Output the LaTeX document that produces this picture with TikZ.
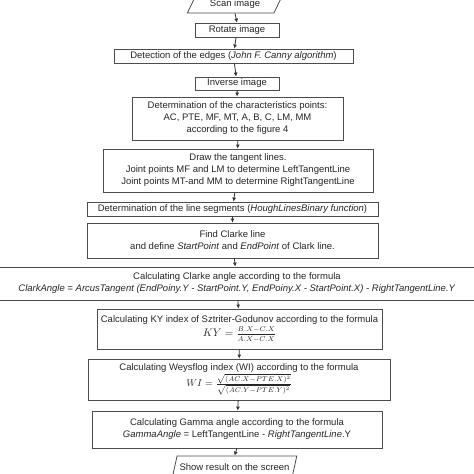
\documentclass[tikz,border=0pt]{standalone}
\usepackage{fontspec}
\setmainfont{Liberation Sans}
\usetikzlibrary{shapes.geometric,arrows.meta}
\tikzset{
	box/.style={draw=black!70, line width=0.8pt, rectangle, align=center, inner sep=0pt, font=\fontsize{9.5}{12}\selectfont, text=black!85},
	io/.style={draw=black!70, line width=0.8pt, trapezium, trapezium left angle=55, trapezium right angle=125, trapezium stretches=true, inner xsep=2.5pt, inner ysep=0pt, font=\fontsize{9.5}{12}\selectfont, text=black!85},
	arr/.style={draw=black!80, line width=0.8pt, -{Latex[length=4pt,width=4pt]}}
}
\newcommand{\formula}[1]{{\fontsize{10.5}{12}\selectfont$#1$}}
\newcommand{\fracnum}[2][1.2pt]{\raisebox{#1}{$\scriptstyle #2$}}
\newcommand{\fracden}[2][1.2pt]{\raisebox{-#1}{$\scriptstyle #2$}}
\begin{document}
\begin{tikzpicture}[x=1pt,y=-1pt]
		\useasboundingbox (0,0) rectangle (474,474);
		\node[io, minimum width=96, minimum height=18] (scan) at (235,4) {Scan image};
		\node[box, minimum width=84, minimum height=14] (rotate) at (237,30) {Rotate image};
		\node[box, minimum width=239, minimum height=14] (edges) at (233.5,56) {Detection of the edges (\textit{John F. Canny algorithm})};
		\node[box, minimum width=84, minimum height=13] (inverse) at (237,83.5) {Inverse image};
		\node[box, minimum width=211, minimum height=43] (points) at (237.5,118.5) {Determination of the characteristics points:\\AC, PTE, MF, MT, A, B, C, LM, MM\\according to the figure 4};
		\node[box, minimum width=270, minimum height=43] (tangent) at (238,170.5) {Draw the tangent lines.\\Joint points MF and LM to determine LeftTangentLine\\Joint points MT-and MM to determine RightTangentLine};
		\node[box, minimum width=291, minimum height=14] (hough) at (232.5,209) {Determination of the line segments (\textit{HoughLinesBinary function})};
		\node[box, minimum width=291, minimum height=35] (clarke) at (232.5,240.5) {Find Clarke line\\and define \textit{StartPoint} and \textit{EndPoint} of Clark line.};
		\node[box, minimum width=484, minimum height=33] (angle) at (237,283.5) {Calculating Clarke angle according to the formula\\\textit{ClarkAngle = ArcusTangent (EndPoiny.Y - StartPoint.Y, EndPoiny.X - StartPoint.X) - RightTangentLine.Y}};
		\node[box, minimum width=285, minimum height=40] (ky) at (239.5,329) {Calculating KY index of Sztriter-Godunov according to the formula\\[1pt]\formula{KY = \frac{\fracnum{B.X-C.X}}{\fracden{A.X-C.X}}}};
		\node[box, minimum width=302, minimum height=41] (wi) at (239,379.5) {Calculating Weysflog index (WI) according to the formula\\[0pt]{\fontsize{10}{12}\selectfont$WI = \frac{\fracnum[0.5pt]{\sqrt{(AC.X-PTE.X)^2}}}{\fracden[0.5pt]{\sqrt{(AC.Y-PTE.Y)^2}}}$}};
		\node[box, minimum width=290, minimum height=37] (gamma) at (237,429.5) {Calculating Gamma angle according to the formula\\\textit{GammaAngle} = LeftTangentLine - \textit{RightTangentLine}.Y};
		\node[io, minimum width=112, minimum height=22] (show) at (234.5,467) {Show result on the screen};
		% connectors
		\draw[arr] (scan.south) -- (rotate.north);
		\draw[arr] (rotate) -- (edges);
		\draw[arr] (edges) -- (inverse);
		\draw[arr] (inverse) -- (points);
		\draw[arr] (points) -- (tangent);
		\draw[arr] (tangent) -- (hough);
		\draw[arr] (hough) -- (clarke);
		\draw[arr] (clarke) -- (angle);
		\draw[arr] (angle) -- (ky);
		\draw[arr] (ky) -- (wi);
		\draw[arr] (wi) -- (gamma);
		\draw[arr] (gamma.south) -- (show.north);
	\end{tikzpicture}
\end{document}
